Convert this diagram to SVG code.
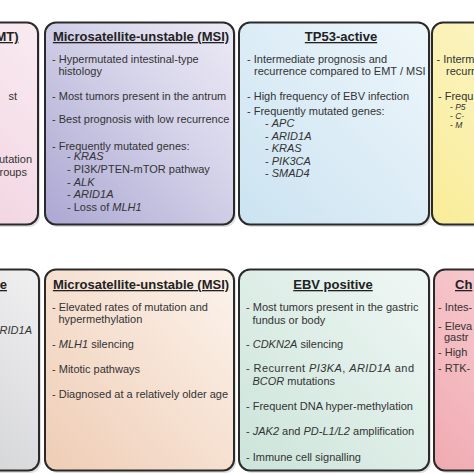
<svg xmlns="http://www.w3.org/2000/svg" width="474" height="474" viewBox="0 0 474 474">
<defs>
<linearGradient id="gEMT" x1="0" y1="1" x2="1" y2="0"><stop offset="0" stop-color="#eec9d8"/><stop offset="1" stop-color="#f9ebf1"/></linearGradient>
<linearGradient id="gMSI1" x1="0" y1="1" x2="1" y2="0"><stop offset="0" stop-color="#aba7d2"/><stop offset="0.6" stop-color="#d6d4ea"/><stop offset="1" stop-color="#eceaf5"/></linearGradient>
<linearGradient id="gTP53" x1="0" y1="1" x2="1" y2="0"><stop offset="0" stop-color="#cbe3f1"/><stop offset="1" stop-color="#eef6fb"/></linearGradient>
<linearGradient id="gYel" x1="0" y1="1" x2="1" y2="0"><stop offset="0" stop-color="#f9ec98"/><stop offset="1" stop-color="#fdf8d8"/></linearGradient>
<linearGradient id="gGS" x1="0" y1="1" x2="1" y2="0"><stop offset="0" stop-color="#c6c7ca"/><stop offset="1" stop-color="#f0f0f1"/></linearGradient>
<linearGradient id="gMSI2" x1="0" y1="1" x2="1" y2="0"><stop offset="0" stop-color="#efcdb5"/><stop offset="1" stop-color="#fcf3ec"/></linearGradient>
<linearGradient id="gEBV" x1="0" y1="1" x2="1" y2="0"><stop offset="0" stop-color="#cbe4da"/><stop offset="1" stop-color="#f0f7f4"/></linearGradient>
<linearGradient id="gCIN" x1="0" y1="1" x2="1" y2="0"><stop offset="0" stop-color="#f0aab1"/><stop offset="1" stop-color="#fadcdf"/></linearGradient>
</defs>
<style>
.box{stroke:#2a2a2a;stroke-width:2}
.sh{fill:#b8b8b8;opacity:0.45}
text{font-family:"Liberation Sans",Arial,sans-serif;fill:#333;font-size:11px}
.t{font-weight:bold;font-size:13px;text-decoration:underline;fill:#222}
.i{font-style:italic}
.s{font-size:8.5px}
</style>
<rect width="474" height="474" fill="#ffffff"/>

<g id="node-emt">
<rect class="sh" x="-150" y="24" width="190" height="203" rx="11"/>
<rect class="box" x="-152" y="22.5" width="190" height="202" rx="11" fill="url(#gEMT)"/>
<text class="t" x="18.5" y="41" text-anchor="end">MT)</text>
<text x="17" y="100" text-anchor="end">st</text>
<text x="32" y="163" text-anchor="end">utation</text>
<text x="27" y="176" text-anchor="end">roups</text>
</g>

<g id="node-msi-top">
<rect class="sh" x="47" y="24" width="189" height="203" rx="11"/>
<rect class="box" x="45" y="22.5" width="189" height="202" rx="11" fill="url(#gMSI1)"/>
<text class="t" x="141" y="41" text-anchor="middle">Microsatellite-unstable (MSI)</text>
<text x="52" y="63">- Hypermutated intestinal-type</text>
<text x="58.5" y="75">histology</text>
<text x="52" y="99.5">- Most tumors present in the antrum</text>
<text x="52" y="123">- Best prognosis with low recurrence</text>
<text x="52" y="149.5">- Frequently mutated genes:</text>
<text x="67" y="160">- <tspan class="i">KRAS</tspan></text>
<text x="67" y="173">- PI3K/PTEN-mTOR pathway</text>
<text x="67" y="186">- <tspan class="i">ALK</tspan></text>
<text x="67" y="198">- <tspan class="i">ARID1A</tspan></text>
<text x="67" y="211">- Loss of <tspan class="i">MLH1</tspan></text>
</g>

<g id="node-tp53">
<rect class="sh" x="241" y="24" width="190" height="203" rx="11"/>
<rect class="box" x="239" y="22.5" width="190" height="202" rx="11" fill="url(#gTP53)"/>
<text class="t" x="341" y="41" text-anchor="middle">TP53-active</text>
<text x="247" y="63">- Intermediate prognosis and</text>
<text x="254" y="75">recurrence compared to EMT / MSI</text>
<text x="247" y="100">- High frequency of EBV infection</text>
<text x="247" y="115">- Frequently mutated genes:</text>
<text x="265" y="127">- <tspan class="i">APC</tspan></text>
<text x="265" y="140">- <tspan class="i">ARID1A</tspan></text>
<text x="265" y="152">- <tspan class="i">KRAS</tspan></text>
<text x="265" y="164.5">- <tspan class="i">PIK3CA</tspan></text>
<text x="265" y="177">- <tspan class="i">SMAD4</tspan></text>
</g>

<g id="node-tp53-inactive">
<rect class="sh" x="434" y="24" width="190" height="203" rx="11"/>
<rect class="box" x="432" y="22.5" width="190" height="202" rx="11" fill="url(#gYel)"/>
<text x="436.5" y="63">- Interm</text>
<text x="446" y="75">recurr</text>
<text x="438" y="100">- Frequ</text>
<text class="s" x="450" y="110">- <tspan class="i">P5</tspan></text>
<text class="s" x="450" y="119">- <tspan class="i">C-</tspan></text>
<text class="s" x="450" y="128">- <tspan class="i">M</tspan></text>
</g>

<g id="node-gs">
<rect class="sh" x="-149" y="271" width="190" height="202" rx="11"/>
<rect class="box" x="-151" y="269.5" width="190" height="201" rx="11" fill="url(#gGS)"/>
<text class="t" x="7" y="289" text-anchor="end">e</text>
<text class="i" x="32" y="334" text-anchor="end">RID1A</text>
</g>

<g id="node-msi-bottom">
<rect class="sh" x="47" y="271" width="189" height="202" rx="11"/>
<rect class="box" x="45" y="269.5" width="189" height="201" rx="11" fill="url(#gMSI2)"/>
<text class="t" x="141" y="289" text-anchor="middle">Microsatellite-unstable (MSI)</text>
<text x="52" y="311">- Elevated rates of mutation and</text>
<text x="58.5" y="323">hypermethylation</text>
<text x="52" y="348">- <tspan class="i">MLH1</tspan> silencing</text>
<text x="52" y="373">- Mitotic pathways</text>
<text x="52" y="398">- Diagnosed at a relatively older age</text>
</g>

<g id="node-ebv">
<rect class="sh" x="241" y="271" width="190" height="202" rx="11"/>
<rect class="box" x="239" y="269.5" width="190" height="201" rx="11" fill="url(#gEBV)"/>
<text class="t" x="333" y="289" text-anchor="middle">EBV positive</text>
<text x="246" y="311">- Most tumors present in the gastric</text>
<text x="252.5" y="324">fundus or body</text>
<text x="246" y="348">- <tspan class="i">CDKN2A</tspan> silencing</text>
<text x="246" y="372" textLength="168" lengthAdjust="spacing">- Recurrent <tspan class="i">PI3KA</tspan>, <tspan class="i">ARID1A</tspan> and</text>
<text x="252.5" y="385"><tspan class="i">BCOR</tspan> mutations</text>
<text x="246" y="410">- Frequent DNA hyper-methylation</text>
<text x="246" y="435">- <tspan class="i">JAK2</tspan> and <tspan class="i">PD-L1/L2</tspan> amplification</text>
<text x="246" y="461">- Immune cell signalling</text>
</g>

<g id="node-cin">
<rect class="sh" x="436" y="271" width="190" height="202" rx="11"/>
<rect class="box" x="434" y="269.5" width="190" height="201" rx="11" fill="url(#gCIN)"/>
<text class="t" x="455" y="289">Ch</text>
<text x="438" y="311">- Intes-</text>
<text x="438" y="329.5">- Eleva</text>
<text x="444" y="341">gastr</text>
<text x="438" y="356">- High</text>
<text x="438" y="372">- RTK-</text>
</g>
</svg>
